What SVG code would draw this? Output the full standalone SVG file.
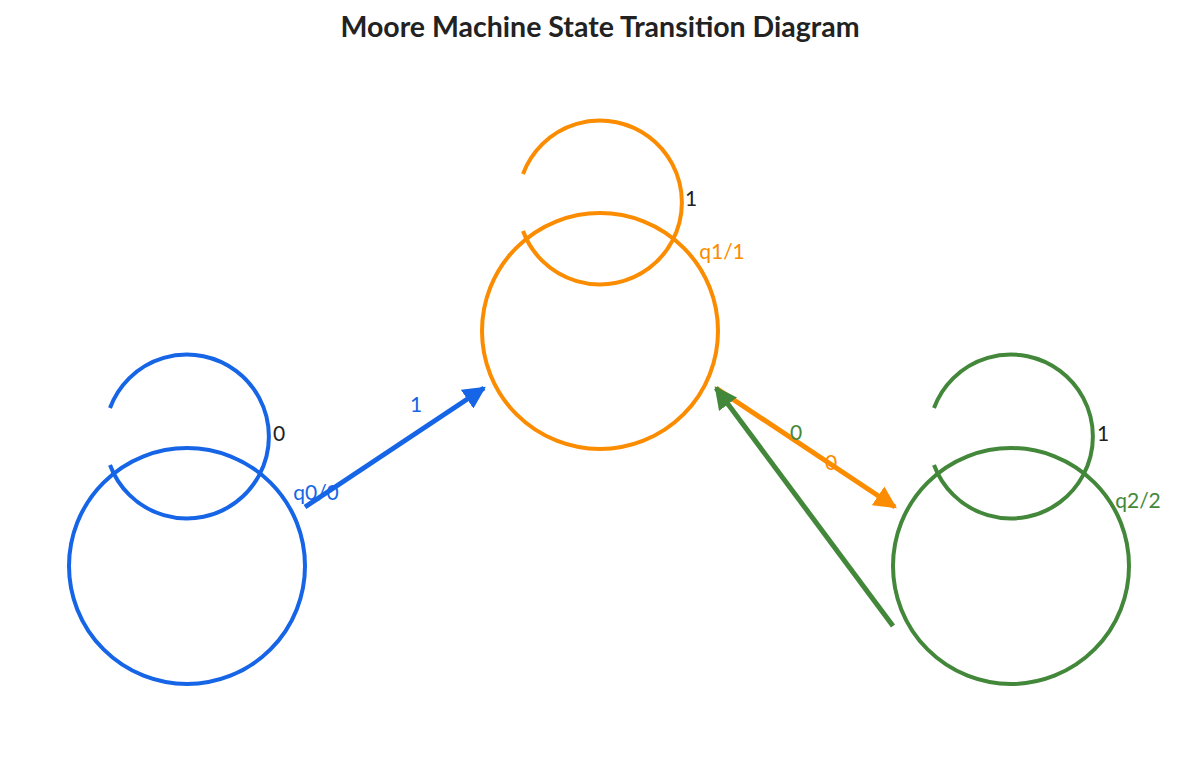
<svg xmlns="http://www.w3.org/2000/svg" width="1200" height="763" viewBox="0 0 1200 763">
<style>
text{font-family:Lato,"Noto Sans",sans-serif}
.st{fill:none;stroke-width:4}
.lbl{font-size:21px;dominant-baseline:middle;text-anchor:middle}
</style>
<defs>
<marker id="mb" viewBox="0 0 10 10" refX="9" refY="5" markerWidth="4.5" markerHeight="4.5" orient="auto" markerUnits="strokeWidth"><path d="M0,0L10,5L0,10z" fill="#1565e6"/></marker>
<marker id="mo" viewBox="0 0 10 10" refX="9" refY="5" markerWidth="4.5" markerHeight="4.5" orient="auto" markerUnits="strokeWidth"><path d="M0,0L10,5L0,10z" fill="#fb8c00"/></marker>
<marker id="mg" viewBox="0 0 10 10" refX="9" refY="5" markerWidth="4.5" markerHeight="4.5" orient="auto" markerUnits="strokeWidth"><path d="M0,0L10,5L0,10z" fill="#43883a"/></marker>
</defs>
<rect width="1200" height="763" fill="#fff"/>
<text x="600" y="30" font-size="28.5" font-weight="bold" text-anchor="middle" dominant-baseline="middle" fill="#222">Moore Machine State Transition Diagram</text>
<g id="connectors">
<path d="M110,408 A82,82 0 1 1 110,465" class="st" stroke="#1565e6"/>
<text x="279" y="436" class="lbl" fill="#222">0</text>
<path d="M523,174 A82,82 0 1 1 523,231" class="st" stroke="#fb8c00"/>
<text x="691" y="201" class="lbl" fill="#222">1</text>
<path d="M934,408 A82,82 0 1 1 934,465" class="st" stroke="#43883a"/>
<text x="1103" y="436" class="lbl" fill="#222">1</text>
<line x1="305" y1="507" x2="484" y2="388" stroke="#1565e6" stroke-width="5" marker-end="url(#mb)"/>
<text x="416" y="407" class="lbl" fill="#1565e6">1</text>
<line x1="716" y1="388" x2="895" y2="507" stroke="#fb8c00" stroke-width="5" marker-end="url(#mo)"/>
<text x="831" y="465" class="lbl" fill="#fb8c00">0</text>
<line x1="893" y1="626" x2="716" y2="388" stroke="#43883a" stroke-width="5" marker-end="url(#mg)"/>
<text x="796" y="435" class="lbl" fill="#43883a">0</text>
</g>
<g id="q0"><circle cx="187" cy="566" r="118" class="st" stroke="#1565e6"/><text x="316" y="495" class="lbl" fill="#1565e6" font-size="17">q0/0</text></g>
<g id="q1"><circle cx="600" cy="331" r="118" class="st" stroke="#fb8c00"/><text x="722" y="254" class="lbl" fill="#fb8c00" font-size="17">q1/1</text></g>
<g id="q2"><circle cx="1011" cy="566" r="118" class="st" stroke="#43883a"/><text x="1138" y="503" class="lbl" fill="#43883a" font-size="17">q2/2</text></g>
</svg>
